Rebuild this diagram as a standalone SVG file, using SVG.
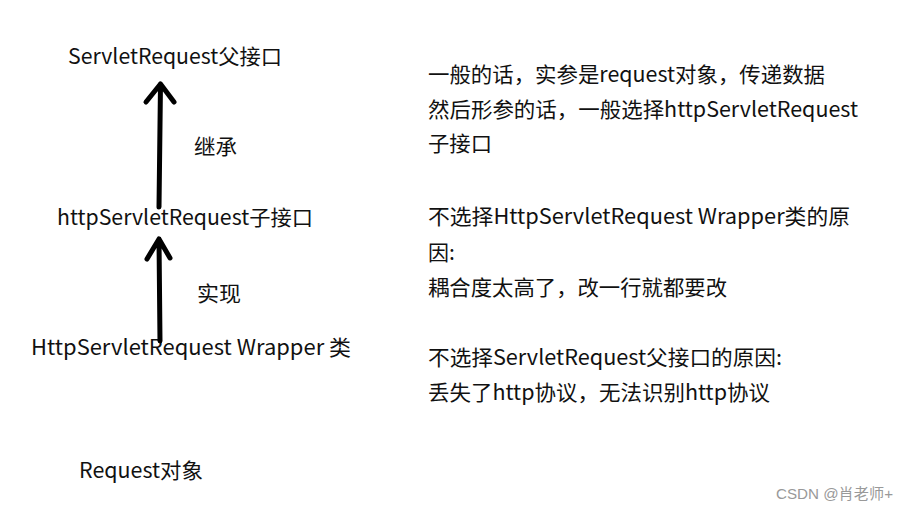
<svg xmlns="http://www.w3.org/2000/svg" width="908" height="511" viewBox="0 0 908 511">
<style>
.t{font-family:"Noto Sans CJK SC","Microsoft YaHei",sans-serif;font-size:21px;fill:#111}
.c{stroke:#000;stroke-width:5;fill:none;stroke-linecap:round;stroke-linejoin:round}
.w{font-family:"Liberation Sans","Noto Sans CJK SC",sans-serif;font-size:14.5px;fill:#999}
</style>
<rect width="908" height="511" fill="#fff"/>
<g id="node-servletrequest"><text class="t" x="68" y="64" textLength="214" lengthAdjust="spacingAndGlyphs">ServletRequest父接口</text></g>
<g id="node-httpservletrequest"><text class="t" x="57" y="225" textLength="256" lengthAdjust="spacingAndGlyphs">httpServletRequest子接口</text></g>
<g id="node-wrapper"><text class="t" x="31" y="355" textLength="320" lengthAdjust="spacingAndGlyphs">HttpServletRequest Wrapper 类</text></g>
<g id="node-request"><text class="t" x="79" y="478" textLength="124" lengthAdjust="spacingAndGlyphs">Request对象</text></g>
<g id="connectors">
<path class="c" d="M159 207 L160.5 84 M146 102 L160.5 84 L174 102"/>
<path class="c" d="M160 341 L159 239 M147 259 L159 239 L170 258"/>
<text class="t" x="194" y="154" textLength="43" lengthAdjust="spacingAndGlyphs">继承</text>
<text class="t" x="197" y="301" textLength="44" lengthAdjust="spacingAndGlyphs">实现</text>
</g>
<g id="notes">
<text class="t" x="428" y="82" textLength="397" lengthAdjust="spacingAndGlyphs">一般的话，实参是request对象，传递数据</text>
<text class="t" x="428" y="117" textLength="430" lengthAdjust="spacingAndGlyphs">然后形参的话，一般选择httpServletRequest</text>
<text class="t" x="428" y="151" textLength="64" lengthAdjust="spacingAndGlyphs">子接口</text>
<text class="t" x="428" y="224" textLength="422" lengthAdjust="spacingAndGlyphs">不选择HttpServletRequest Wrapper类的原</text>
<text class="t" x="428" y="260">因:</text>
<text class="t" x="428" y="295" textLength="299" lengthAdjust="spacingAndGlyphs">耦合度太高了，改一行就都要改</text>
<text class="t" x="428" y="365" textLength="354" lengthAdjust="spacingAndGlyphs">不选择ServletRequest父接口的原因:</text>
<text class="t" x="428" y="400" textLength="342" lengthAdjust="spacingAndGlyphs">丢失了http协议，无法识别http协议</text>
</g>
<text class="w" x="776" y="499" textLength="117" lengthAdjust="spacingAndGlyphs">CSDN @肖老师+</text>
</svg>
